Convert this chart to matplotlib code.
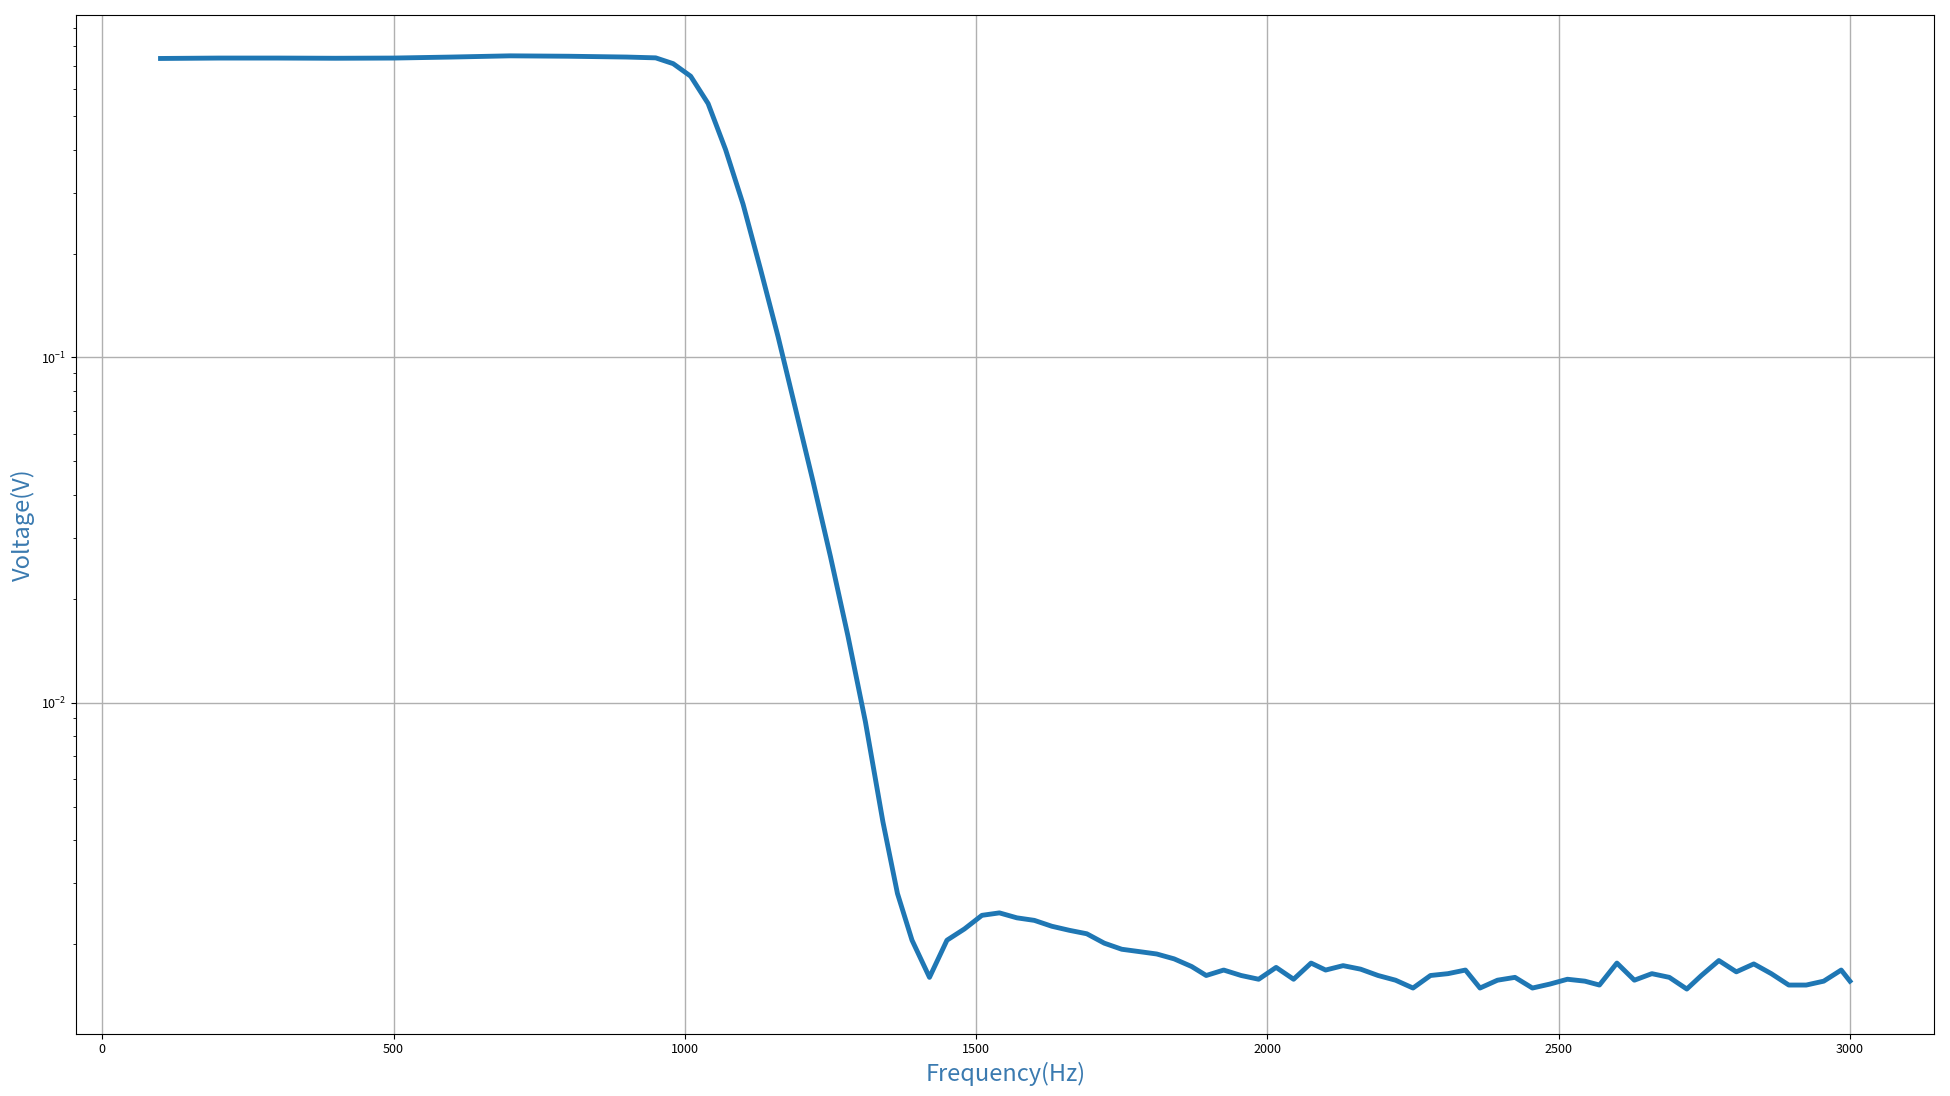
import matplotlib.pyplot as plt

plt.rcParams['font.family'] = ['Noto Sans CJK SC', 'DejaVu Sans']

freq = [100, 200, 300, 400, 500, 600, 700, 800, 900, 950,
        980, 1010, 1040, 1070, 1100, 1130, 1160, 1190, 1220, 1250,
        1280, 1310, 1340, 1365, 1390, 1420, 1450, 1480, 1510, 1540,
        1570, 1600, 1630, 1660, 1690, 1720, 1750, 1780, 1810, 1840,
        1870, 1895, 1925, 1955, 1985, 2015, 2045, 2075, 2100, 2130,
        2160, 2190, 2220, 2250, 2280, 2310, 2340, 2365, 2395, 2425,
        2455, 2485, 2515, 2545, 2570, 2600, 2630, 2660, 2690, 2720,
        2745, 2775, 2805, 2835, 2865, 2895, 2925, 2955, 2985, 3000]
voltage = [0.735, 0.737, 0.737, 0.736, 0.737, 0.742, 0.748, 0.746, 0.742, 0.738,
           0.71, 0.653, 0.544, 0.40, 0.278, 0.18, 0.115, 0.071, 0.0438, 0.0265,
           0.0156, 0.0088, 0.00452, 0.0028, 0.00205, 0.00160, 0.00205, 0.00221, 0.00242, 0.00246,
           0.00238, 0.00234, 0.00225, 0.00219, 0.00214, 0.00201, 0.00193, 0.00190, 0.00187, 0.00181,
           0.00172, 0.00162, 0.00168, 0.00162, 0.00158, 0.00171, 0.00158, 0.00176, 0.00168, 0.00173,
           0.00169, 0.00162, 0.00157, 0.00149, 0.00162, 0.00164, 0.00168, 0.00149, 0.00157, 0.00160,
           0.00149, 0.00153, 0.00158, 0.00156, 0.00152, 0.00176, 0.00157, 0.00164, 0.00160, 0.00148,
           0.00162, 0.00179, 0.00166, 0.00175, 0.00164, 0.00152, 0.00152, 0.00156, 0.00168, 0.00156]

fig = plt.figure(figsize=(19.5, 10.96), dpi=100)
ax = fig.add_axes([0.039, 0.057, 0.953, 0.929])
ax.plot(freq, voltage, color='#1f77b4', linewidth=3.5)
ax.set_yscale('log')
ax.set_xlim(-45, 3145)
ax.set_ylim(0.0011, 0.98)
ax.grid(True, which='major', color='#b0b0b0', linewidth=1)
ax.tick_params(labelsize=9)
ax.set_xlabel('Frequency(Hz)', fontsize=17, color='#3a7ab0')
ax.set_ylabel('Voltage(V)', fontsize=17, color='#3a7ab0')

fig.savefig('out.png')
